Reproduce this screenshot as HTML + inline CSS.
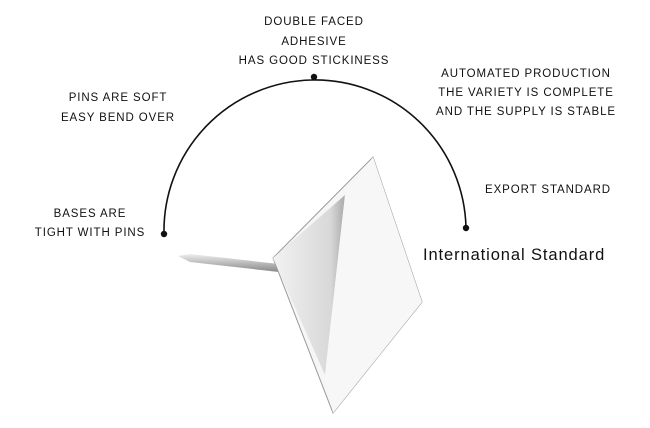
<!DOCTYPE html>
<html><head><style>
body{margin:0;width:650px;height:423px;background:#fff;overflow:hidden;font-family:"Liberation Sans",sans-serif;}
</style></head><body>
<svg width="650" height="423" xmlns="http://www.w3.org/2000/svg">
<defs>
<linearGradient id="pin" x1="0" y1="0" x2="0" y2="1"><stop offset="0" stop-color="#eee"/><stop offset="0.5" stop-color="#bbb"/><stop offset="1" stop-color="#888"/></linearGradient>
<linearGradient id="fold" x1="0" y1="0" x2="1" y2="0"><stop offset="0" stop-color="#f2f2f2"/><stop offset="0.8" stop-color="#d8d8d8"/><stop offset="1" stop-color="#aaa"/></linearGradient>
</defs>
<path d="M164,234 A151,151 0 0 1 466,228" fill="none" stroke="#111" stroke-width="1.6"/>
<circle cx="164" cy="234" r="3.2" fill="#111"/>
<circle cx="314" cy="77" r="3.2" fill="#111"/>
<circle cx="466" cy="228" r="3.2" fill="#111"/>
<polygon points="178,256 190,254 279,264 279,272 190,262" fill="url(#pin)"/>
<polygon points="273,258 373,157 422,302 333,413" fill="#f6f6f6" stroke="#999" stroke-width="1"/>
<polygon points="273,258 345,195 325,375" fill="url(#fold)"/>
<polygon points="345,195 373,157 422,302 333,413 325,375" fill="#f7f7f7"/>
<g font-size="11.5" fill="#111" text-anchor="middle" letter-spacing="0.9">
<text x="314" y="25">DOUBLE FACED</text>
<text x="314" y="45">ADHESIVE</text>
<text x="314" y="64">HAS GOOD STICKINESS</text>
<text x="118" y="101">PINS ARE SOFT</text>
<text x="118" y="121">EASY BEND OVER</text>
<text x="526" y="77">AUTOMATED PRODUCTION</text>
<text x="526" y="96">THE VARIETY IS COMPLETE</text>
<text x="526" y="115">AND THE SUPPLY IS STABLE</text>
<text x="90" y="217">BASES ARE</text>
<text x="90" y="236">TIGHT WITH PINS</text>
<text x="548" y="193">EXPORT STANDARD</text>
</g>
<text x="423" y="260" font-size="16.5" fill="#111" letter-spacing="0.9">International Standard</text>
</svg>
</body></html>
